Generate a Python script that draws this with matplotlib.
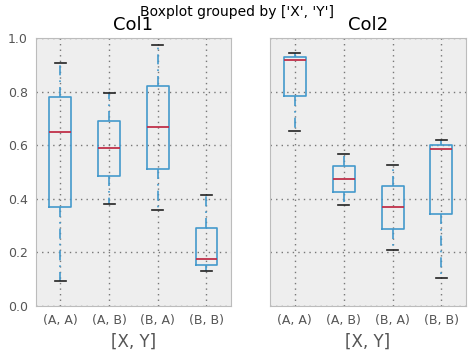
import matplotlib
matplotlib.use("Agg")
from matplotlib import pyplot as plt

groups = ["(A, A)", "(A, B)", "(B, A)", "(B, B)"]

# box stats: low whisker, q1, median, q3, high whisker
col1_low = [0.093, 0.380, 0.358, 0.131]
col1_q1 = [0.369, 0.485, 0.511, 0.153]
col1_med = [0.649, 0.590, 0.668, 0.175]
col1_q3 = [0.780, 0.690, 0.820, 0.291]
col1_high = [0.907, 0.795, 0.974, 0.414]

col2_low = [0.653, 0.377, 0.209, 0.104]
col2_q1 = [0.784, 0.425, 0.287, 0.343]
col2_med = [0.918, 0.474, 0.369, 0.586]
col2_q3 = [0.929, 0.522, 0.448, 0.601]
col2_high = [0.944, 0.567, 0.526, 0.619]


def make_stats(low, q1, med, q3, high):
    return [dict(whislo=a, q1=b, med=c, q3=d, whishi=e, fliers=[])
            for a, b, c, d, e in zip(low, q1, med, q3, high)]


fig = plt.figure(figsize=(4.74, 3.58), dpi=100)
ax1 = fig.add_axes([0.076, 0.145, 0.411, 0.749])
ax2 = fig.add_axes([0.570, 0.145, 0.413, 0.749], sharey=ax1)

panels = [(ax1, "Col1", make_stats(col1_low, col1_q1, col1_med, col1_q3, col1_high)),
          (ax2, "Col2", make_stats(col2_low, col2_q1, col2_med, col2_q3, col2_high))]

for ax, title, stats in panels:
    ax.set_facecolor("#eeeeee")
    ax.bxp(stats, widths=0.45, showfliers=False,
           boxprops=dict(color="#4499cc", linewidth=1.2),
           whiskerprops=dict(color="#4499cc", linestyle=(0, (6, 3, 1, 3)), linewidth=1.2),
           capprops=dict(color="#222222", linewidth=1.2),
           medianprops=dict(color="#c0304a", linewidth=1.3))
    ax.set_xticks(range(1, 5))
    ax.set_xticklabels(groups)
    ax.set_xlim(0.5, 4.5)
    ax.set_title(title, fontsize=13)
    ax.set_xlabel("[X, Y]", fontsize=12, color="#555555")
    ax.grid(True, color="#777777", linestyle=(0, (1, 3)), linewidth=1.0)
    ax.set_axisbelow(True)
    ax.tick_params(length=0, labelsize=9, colors="#555555", pad=6)
    for s in ax.spines.values():
        s.set_color("#bcbcbc")

ax1.set_ylim(0.0, 1.0)
ax1.set_yticks([0.0, 0.2, 0.4, 0.6, 0.8, 1.0])
plt.setp(ax2.get_yticklabels(), visible=False)

fig.suptitle("Boxplot grouped by ['X', 'Y']", fontsize=10, y=0.985)

fig.savefig("out.png", dpi=100)
